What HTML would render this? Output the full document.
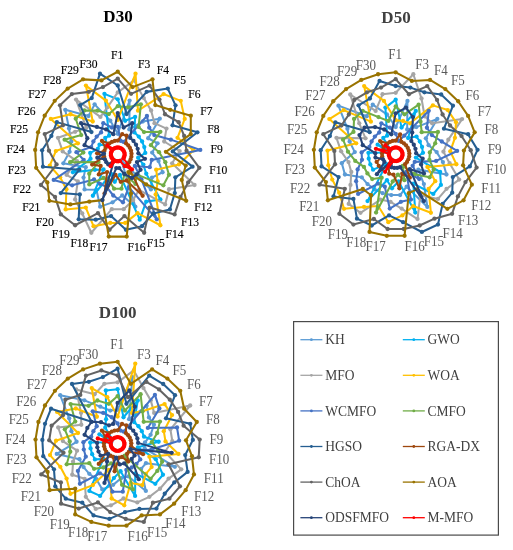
<!DOCTYPE html>
<html><head><meta charset="utf-8"><title>Radar</title>
<style>
html,body{margin:0;padding:0;background:#fff}
svg{display:block}
text{font-family:"Liberation Serif","Times New Roman",serif}
.t{font-size:17px;font-weight:bold}
.g{font-size:15.2px;fill:#404040}
polygon{fill:none;stroke-width:2.05;stroke-linejoin:round}
</style></head><body>
<svg width="513" height="550" viewBox="0 0 513 550">
<rect width="513" height="550" fill="#fff"/>
<g>
<text class="t" x="118" y="22.4" text-anchor="middle" fill="#000">D30</text>
<g class="l" text-anchor="middle" font-size="12.2" fill="#000" stroke="#000" stroke-width="0.15">
<text transform="translate(117.1 58.9) scale(0.95 1)">F1</text><text transform="translate(144.15 68) scale(0.95 1)">F3</text><text transform="translate(162.85 73.9) scale(0.95 1)">F4</text><text transform="translate(179.85 84.1) scale(0.95 1)">F5</text><text transform="translate(194.35 98.2) scale(0.95 1)">F6</text><text transform="translate(206.35 114.5) scale(0.95 1)">F7</text><text transform="translate(213.35 133.4) scale(0.95 1)">F8</text><text transform="translate(216.65 153.2) scale(0.95 1)">F9</text><text transform="translate(218.2 173.6) scale(0.95 1)">F10</text><text transform="translate(213.1 192.7) scale(0.95 1)">F11</text><text transform="translate(203.2 210.7) scale(0.95 1)">F12</text><text transform="translate(190.1 225.9) scale(0.95 1)">F13</text><text transform="translate(174.5 238.2) scale(0.95 1)">F14</text><text transform="translate(155.8 246.7) scale(0.95 1)">F15</text><text transform="translate(136.5 251.3) scale(0.95 1)">F16</text><text transform="translate(98.5 251.3) scale(0.95 1)">F17</text><text transform="translate(79.4 246.7) scale(0.95 1)">F18</text><text transform="translate(60.7 238) scale(0.95 1)">F19</text><text transform="translate(44.8 225.7) scale(0.95 1)">F20</text><text transform="translate(31.2 210.7) scale(0.95 1)">F21</text><text transform="translate(22.1 192.7) scale(0.95 1)">F22</text><text transform="translate(16.7 173.6) scale(0.95 1)">F23</text><text transform="translate(15.6 153.2) scale(0.95 1)">F24</text><text transform="translate(19.1 133.4) scale(0.95 1)">F25</text><text transform="translate(26.6 114.5) scale(0.95 1)">F26</text><text transform="translate(37.3 98.2) scale(0.95 1)">F27</text><text transform="translate(52.3 84.1) scale(0.95 1)">F28</text><text transform="translate(69.8 73.9) scale(0.95 1)">F29</text><text transform="translate(88.5 68) scale(0.95 1)">F30</text>
</g>
<g fill="#5B9BD5" stroke="#5B9BD5">
<polygon points="117.75,133.73 129.6,100.57 129.32,129.39 142.77,121.49 159.76,118.72 148.19,138.26 157.58,143.34 152.15,152.53 158.55,161.09 162.55,172.25 151.97,177.6 150.92,189.41 121.3,160.3 135.35,206.63 122.22,195.5 112.54,202.35 100.15,206.63 96.44,189.82 84.58,189.41 83.53,177.6 85.75,167.15 63.36,163.32 69.59,151.79 71.28,141.5 69.05,128.58 65.24,109.8 88.56,116 94.61,104.37 110.34,120.76"/>
<g stroke="none"><circle cx="117.75" cy="133.73" r="2.15"/><circle cx="129.6" cy="100.57" r="2.15"/><circle cx="129.32" cy="129.39" r="2.15"/><circle cx="142.77" cy="121.49" r="2.15"/><circle cx="159.76" cy="118.72" r="2.15"/><circle cx="148.19" cy="138.26" r="2.15"/><circle cx="157.58" cy="143.34" r="2.15"/><circle cx="152.15" cy="152.53" r="2.15"/><circle cx="158.55" cy="161.09" r="2.15"/><circle cx="162.55" cy="172.25" r="2.15"/><circle cx="151.97" cy="177.6" r="2.15"/><circle cx="150.92" cy="189.41" r="2.15"/><circle cx="121.3" cy="160.3" r="2.15"/><circle cx="135.35" cy="206.63" r="2.15"/><circle cx="122.22" cy="195.5" r="2.15"/><circle cx="112.54" cy="202.35" r="2.15"/><circle cx="100.15" cy="206.63" r="2.15"/><circle cx="96.44" cy="189.82" r="2.15"/><circle cx="84.58" cy="189.41" r="2.15"/><circle cx="83.53" cy="177.6" r="2.15"/><circle cx="85.75" cy="167.15" r="2.15"/><circle cx="63.36" cy="163.32" r="2.15"/><circle cx="69.59" cy="151.79" r="2.15"/><circle cx="71.28" cy="141.5" r="2.15"/><circle cx="69.05" cy="128.58" r="2.15"/><circle cx="65.24" cy="109.8" r="2.15"/><circle cx="88.56" cy="116" r="2.15"/><circle cx="94.61" cy="104.37" r="2.15"/><circle cx="110.34" cy="120.76" r="2.15"/></g>
</g>
<g fill="#00B0F0" stroke="#00B0F0">
<polygon points="117.75,99.28 125.16,120.76 135.11,116.88 134.43,132.46 138.76,136.56 142.1,141.49 144.31,147.03 145.27,152.91 138.15,157.74 143.35,164.6 146.26,173.73 160.39,199.42 146.17,201.63 139.75,219.69 119.98,174.95 114.77,181.8 111.15,173.99 92.88,195.73 103.54,169.41 94.94,169.87 72.95,172.25 90.55,158.86 90.23,152.91 97.83,148.87 99.49,144.72 107.25,145.48 105.24,137.94 109.07,135.64 104.42,93.84"/>
<g stroke="none"><circle cx="117.75" cy="99.28" r="2.15"/><circle cx="125.16" cy="120.76" r="2.15"/><circle cx="135.11" cy="116.88" r="2.15"/><circle cx="134.43" cy="132.46" r="2.15"/><circle cx="138.76" cy="136.56" r="2.15"/><circle cx="142.1" cy="141.49" r="2.15"/><circle cx="144.31" cy="147.03" r="2.15"/><circle cx="145.27" cy="152.91" r="2.15"/><circle cx="138.15" cy="157.74" r="2.15"/><circle cx="143.35" cy="164.6" r="2.15"/><circle cx="146.26" cy="173.73" r="2.15"/><circle cx="160.39" cy="199.42" r="2.15"/><circle cx="146.17" cy="201.63" r="2.15"/><circle cx="139.75" cy="219.69" r="2.15"/><circle cx="119.98" cy="174.95" r="2.15"/><circle cx="114.77" cy="181.8" r="2.15"/><circle cx="111.15" cy="173.99" r="2.15"/><circle cx="92.88" cy="195.73" r="2.15"/><circle cx="103.54" cy="169.41" r="2.15"/><circle cx="94.94" cy="169.87" r="2.15"/><circle cx="72.95" cy="172.25" r="2.15"/><circle cx="90.55" cy="158.86" r="2.15"/><circle cx="90.23" cy="152.91" r="2.15"/><circle cx="97.83" cy="148.87" r="2.15"/><circle cx="99.49" cy="144.72" r="2.15"/><circle cx="107.25" cy="145.48" r="2.15"/><circle cx="105.24" cy="137.94" r="2.15"/><circle cx="109.07" cy="135.64" r="2.15"/><circle cx="104.42" cy="93.84" r="2.15"/></g>
</g>
<g fill="#A5A5A5" stroke="#A5A5A5">
<polygon points="117.75,92.39 134.04,80.38 143.79,98.12 151.11,110.52 154.51,123.18 166.45,128.58 164.22,141.5 179.67,151.04 172.14,163.32 194.56,185 169.07,189.2 165.13,204.42 139.06,189.82 133.15,200.11 123.71,209.2 111.79,209.2 91.35,232.75 82.23,213.44 75.11,199.42 77.83,181.47 66.54,174.8 76.95,161.09 62.71,151.42 58,137.81 75.14,131.81 86.24,127.64 76.05,99.55 100.39,116.88 107.38,107.3"/>
<g stroke="none"><circle cx="117.75" cy="92.39" r="2.15"/><circle cx="134.04" cy="80.38" r="2.15"/><circle cx="143.79" cy="98.12" r="2.15"/><circle cx="151.11" cy="110.52" r="2.15"/><circle cx="154.51" cy="123.18" r="2.15"/><circle cx="166.45" cy="128.58" r="2.15"/><circle cx="164.22" cy="141.5" r="2.15"/><circle cx="179.67" cy="151.04" r="2.15"/><circle cx="172.14" cy="163.32" r="2.15"/><circle cx="194.56" cy="185" r="2.15"/><circle cx="169.07" cy="189.2" r="2.15"/><circle cx="165.13" cy="204.42" r="2.15"/><circle cx="139.06" cy="189.82" r="2.15"/><circle cx="133.15" cy="200.11" r="2.15"/><circle cx="123.71" cy="209.2" r="2.15"/><circle cx="111.79" cy="209.2" r="2.15"/><circle cx="91.35" cy="232.75" r="2.15"/><circle cx="82.23" cy="213.44" r="2.15"/><circle cx="75.11" cy="199.42" r="2.15"/><circle cx="77.83" cy="181.47" r="2.15"/><circle cx="66.54" cy="174.8" r="2.15"/><circle cx="76.95" cy="161.09" r="2.15"/><circle cx="62.71" cy="151.42" r="2.15"/><circle cx="58" cy="137.81" r="2.15"/><circle cx="75.14" cy="131.81" r="2.15"/><circle cx="86.24" cy="127.64" r="2.15"/><circle cx="76.05" cy="99.55" r="2.15"/><circle cx="100.39" cy="116.88" r="2.15"/><circle cx="107.38" cy="107.3" r="2.15"/></g>
</g>
<g fill="#FFC000" stroke="#FFC000">
<polygon points="117.75,119.95 135.52,73.65 138,110.63 163.62,94.06 180.77,100.87 184.71,118.9 177.5,137.81 193.43,150.3 178.94,164.43 156.15,169.7 157.67,181.47 155.66,194.42 160.38,225.24 137.55,213.16 125.2,222.9 110.3,222.9 93.55,226.22 85.78,207.53 65.63,209.42 66.43,189.2 60.14,177.35 49.76,165.55 55.83,151.04 77.92,143.34 50.79,118.9 70.49,114.26 92.73,121.49 85.93,85.61 105.9,100.57"/>
<g stroke="none"><circle cx="117.75" cy="119.95" r="2.15"/><circle cx="135.52" cy="73.65" r="2.15"/><circle cx="138" cy="110.63" r="2.15"/><circle cx="163.62" cy="94.06" r="2.15"/><circle cx="180.77" cy="100.87" r="2.15"/><circle cx="184.71" cy="118.9" r="2.15"/><circle cx="177.5" cy="137.81" r="2.15"/><circle cx="193.43" cy="150.3" r="2.15"/><circle cx="178.94" cy="164.43" r="2.15"/><circle cx="156.15" cy="169.7" r="2.15"/><circle cx="157.67" cy="181.47" r="2.15"/><circle cx="155.66" cy="194.42" r="2.15"/><circle cx="160.38" cy="225.24" r="2.15"/><circle cx="137.55" cy="213.16" r="2.15"/><circle cx="125.2" cy="222.9" r="2.15"/><circle cx="110.3" cy="222.9" r="2.15"/><circle cx="93.55" cy="226.22" r="2.15"/><circle cx="85.78" cy="207.53" r="2.15"/><circle cx="65.63" cy="209.42" r="2.15"/><circle cx="66.43" cy="189.2" r="2.15"/><circle cx="60.14" cy="177.35" r="2.15"/><circle cx="49.76" cy="165.55" r="2.15"/><circle cx="55.83" cy="151.04" r="2.15"/><circle cx="77.92" cy="143.34" r="2.15"/><circle cx="50.79" cy="118.9" r="2.15"/><circle cx="70.49" cy="114.26" r="2.15"/><circle cx="92.73" cy="121.49" r="2.15"/><circle cx="85.93" cy="85.61" r="2.15"/><circle cx="105.9" cy="100.57" r="2.15"/></g>
</g>
<g fill="#4472C4" stroke="#4472C4">
<polygon points="117.75,126.84 120.71,140.94 123.54,141.89 146.94,116 149.26,127.64 154.27,135.04 170.86,139.65 200.31,149.92 151.75,159.97 149.75,167.15 134.86,166 141.44,179.41 156.82,219.34 128.75,187.05 122.96,202.35 113.28,195.5 106.75,187.05 99.99,183.92 94.06,179.41 72.13,185.33 53.74,179.9 83.75,159.97 76.47,152.16 91.19,147.03 93.4,141.49 96.74,136.56 101.07,132.46 103.28,123.13 111.83,127.48"/>
<g stroke="none"><circle cx="117.75" cy="126.84" r="2.15"/><circle cx="120.71" cy="140.94" r="2.15"/><circle cx="123.54" cy="141.89" r="2.15"/><circle cx="146.94" cy="116" r="2.15"/><circle cx="149.26" cy="127.64" r="2.15"/><circle cx="154.27" cy="135.04" r="2.15"/><circle cx="170.86" cy="139.65" r="2.15"/><circle cx="200.31" cy="149.92" r="2.15"/><circle cx="151.75" cy="159.97" r="2.15"/><circle cx="149.75" cy="167.15" r="2.15"/><circle cx="134.86" cy="166" r="2.15"/><circle cx="141.44" cy="179.41" r="2.15"/><circle cx="156.82" cy="219.34" r="2.15"/><circle cx="128.75" cy="187.05" r="2.15"/><circle cx="122.96" cy="202.35" r="2.15"/><circle cx="113.28" cy="195.5" r="2.15"/><circle cx="106.75" cy="187.05" r="2.15"/><circle cx="99.99" cy="183.92" r="2.15"/><circle cx="94.06" cy="179.41" r="2.15"/><circle cx="72.13" cy="185.33" r="2.15"/><circle cx="53.74" cy="179.9" r="2.15"/><circle cx="83.75" cy="159.97" r="2.15"/><circle cx="76.47" cy="152.16" r="2.15"/><circle cx="91.19" cy="147.03" r="2.15"/><circle cx="93.4" cy="141.49" r="2.15"/><circle cx="96.74" cy="136.56" r="2.15"/><circle cx="101.07" cy="132.46" r="2.15"/><circle cx="103.28" cy="123.13" r="2.15"/><circle cx="111.83" cy="127.48" r="2.15"/></g>
</g>
<g fill="#70AD47" stroke="#70AD47">
<polygon points="117.75,106.17 128.12,107.3 140.89,104.37 138.6,126.97 144.01,132.1 160.36,131.81 150.94,145.18 159.03,152.16 165.34,162.2 168.96,174.8 163.37,185.33 136.7,174.41 135.51,183.92 124.35,173.99 121.47,188.65 114.03,188.65 108.95,180.52 103.54,178.01 89.32,184.41 89.24,173.73 98.55,162.05 70.16,162.2 83.35,152.53 64.64,139.65 81.23,135.04 75.74,118.72 84.39,110.52 97.5,110.63 108.86,114.03"/>
<g stroke="none"><circle cx="117.75" cy="106.17" r="2.15"/><circle cx="128.12" cy="107.3" r="2.15"/><circle cx="140.89" cy="104.37" r="2.15"/><circle cx="138.6" cy="126.97" r="2.15"/><circle cx="144.01" cy="132.1" r="2.15"/><circle cx="160.36" cy="131.81" r="2.15"/><circle cx="150.94" cy="145.18" r="2.15"/><circle cx="159.03" cy="152.16" r="2.15"/><circle cx="165.34" cy="162.2" r="2.15"/><circle cx="168.96" cy="174.8" r="2.15"/><circle cx="163.37" cy="185.33" r="2.15"/><circle cx="136.7" cy="174.41" r="2.15"/><circle cx="135.51" cy="183.92" r="2.15"/><circle cx="124.35" cy="173.99" r="2.15"/><circle cx="121.47" cy="188.65" r="2.15"/><circle cx="114.03" cy="188.65" r="2.15"/><circle cx="108.95" cy="180.52" r="2.15"/><circle cx="103.54" cy="178.01" r="2.15"/><circle cx="89.32" cy="184.41" r="2.15"/><circle cx="89.24" cy="173.73" r="2.15"/><circle cx="98.55" cy="162.05" r="2.15"/><circle cx="70.16" cy="162.2" r="2.15"/><circle cx="83.35" cy="152.53" r="2.15"/><circle cx="64.64" cy="139.65" r="2.15"/><circle cx="81.23" cy="135.04" r="2.15"/><circle cx="75.74" cy="118.72" r="2.15"/><circle cx="84.39" cy="110.52" r="2.15"/><circle cx="97.5" cy="110.63" r="2.15"/><circle cx="108.86" cy="114.03" r="2.15"/></g>
</g>
<g fill="#255E91" stroke="#255E91">
<polygon points="117.75,85.5 126.64,114.03 146.68,91.87 167.79,88.58 175.51,105.33 172.54,125.35 197.42,132.28 172.79,151.42 192.54,166.66 175.36,177.35 174.78,193.07 169.87,209.42 153.27,213.44 141.95,226.22 125.94,229.75 111.05,216.05 95.75,219.69 78.68,219.34 79.84,194.42 60.72,193.07 79.35,169.7 42.96,166.66 42.07,150.3 51.36,135.97 56.88,122.13 91.49,132.1 80.22,105.03 91.71,98.12 99.98,73.65"/>
<g stroke="none"><circle cx="117.75" cy="85.5" r="2.15"/><circle cx="126.64" cy="114.03" r="2.15"/><circle cx="146.68" cy="91.87" r="2.15"/><circle cx="167.79" cy="88.58" r="2.15"/><circle cx="175.51" cy="105.33" r="2.15"/><circle cx="172.54" cy="125.35" r="2.15"/><circle cx="197.42" cy="132.28" r="2.15"/><circle cx="172.79" cy="151.42" r="2.15"/><circle cx="192.54" cy="166.66" r="2.15"/><circle cx="175.36" cy="177.35" r="2.15"/><circle cx="174.78" cy="193.07" r="2.15"/><circle cx="169.87" cy="209.42" r="2.15"/><circle cx="153.27" cy="213.44" r="2.15"/><circle cx="141.95" cy="226.22" r="2.15"/><circle cx="125.94" cy="229.75" r="2.15"/><circle cx="111.05" cy="216.05" r="2.15"/><circle cx="95.75" cy="219.69" r="2.15"/><circle cx="78.68" cy="219.34" r="2.15"/><circle cx="79.84" cy="194.42" r="2.15"/><circle cx="60.72" cy="193.07" r="2.15"/><circle cx="79.35" cy="169.7" r="2.15"/><circle cx="42.96" cy="166.66" r="2.15"/><circle cx="42.07" cy="150.3" r="2.15"/><circle cx="51.36" cy="135.97" r="2.15"/><circle cx="56.88" cy="122.13" r="2.15"/><circle cx="91.49" cy="132.1" r="2.15"/><circle cx="80.22" cy="105.03" r="2.15"/><circle cx="91.71" cy="98.12" r="2.15"/><circle cx="99.98" cy="73.65" r="2.15"/></g>
</g>
<g fill="#9E480E" stroke="#9E480E">
<polygon points="117.75,140.62 122.19,134.21 126.43,135.64 126.09,143.43 128.25,145.48 129.92,147.95 131.03,150.71 131.51,153.65 131.35,156.63 130.55,159.5 129.16,162.13 127.23,164.4 142.62,195.73 126.55,180.52 120.73,181.8 115.52,174.95 104.55,193.58 107.09,172.11 98.8,174.41 100.64,166 92.15,164.6 104.15,156.63 97.11,153.28 104.47,150.71 105.58,147.95 102,141.02 109.41,143.43 111.96,141.89 114.79,140.94"/>
<g stroke="none"><circle cx="117.75" cy="140.62" r="2.15"/><circle cx="122.19" cy="134.21" r="2.15"/><circle cx="126.43" cy="135.64" r="2.15"/><circle cx="126.09" cy="143.43" r="2.15"/><circle cx="128.25" cy="145.48" r="2.15"/><circle cx="129.92" cy="147.95" r="2.15"/><circle cx="131.03" cy="150.71" r="2.15"/><circle cx="131.51" cy="153.65" r="2.15"/><circle cx="131.35" cy="156.63" r="2.15"/><circle cx="130.55" cy="159.5" r="2.15"/><circle cx="129.16" cy="162.13" r="2.15"/><circle cx="127.23" cy="164.4" r="2.15"/><circle cx="142.62" cy="195.73" r="2.15"/><circle cx="126.55" cy="180.52" r="2.15"/><circle cx="120.73" cy="181.8" r="2.15"/><circle cx="115.52" cy="174.95" r="2.15"/><circle cx="104.55" cy="193.58" r="2.15"/><circle cx="107.09" cy="172.11" r="2.15"/><circle cx="98.8" cy="174.41" r="2.15"/><circle cx="100.64" cy="166" r="2.15"/><circle cx="92.15" cy="164.6" r="2.15"/><circle cx="104.15" cy="156.63" r="2.15"/><circle cx="97.11" cy="153.28" r="2.15"/><circle cx="104.47" cy="150.71" r="2.15"/><circle cx="105.58" cy="147.95" r="2.15"/><circle cx="102" cy="141.02" r="2.15"/><circle cx="109.41" cy="143.43" r="2.15"/><circle cx="111.96" cy="141.89" r="2.15"/><circle cx="114.79" cy="140.94" r="2.15"/></g>
</g>
<g fill="#636363" stroke="#636363">
<polygon points="117.75,78.61 131.08,93.84 149.57,85.61 159.45,99.55 165.01,114.26 178.62,122.13 184.14,135.97 186.55,150.67 199.34,167.78 188.16,182.45 180.48,196.93 174.61,214.43 149.72,207.53 144.15,232.75 124.45,216.05 109.56,229.75 97.95,213.16 75.12,225.24 60.89,214.43 55.02,196.93 40.94,185 56.56,164.43 48.95,150.67 44.72,134.12 62.96,125.35 59.99,105.33 71.88,94.06 88.82,91.87 102.94,87.11"/>
<g stroke="none"><circle cx="117.75" cy="78.61" r="2.15"/><circle cx="131.08" cy="93.84" r="2.15"/><circle cx="149.57" cy="85.61" r="2.15"/><circle cx="159.45" cy="99.55" r="2.15"/><circle cx="165.01" cy="114.26" r="2.15"/><circle cx="178.62" cy="122.13" r="2.15"/><circle cx="184.14" cy="135.97" r="2.15"/><circle cx="186.55" cy="150.67" r="2.15"/><circle cx="199.34" cy="167.78" r="2.15"/><circle cx="188.16" cy="182.45" r="2.15"/><circle cx="180.48" cy="196.93" r="2.15"/><circle cx="174.61" cy="214.43" r="2.15"/><circle cx="149.72" cy="207.53" r="2.15"/><circle cx="144.15" cy="232.75" r="2.15"/><circle cx="124.45" cy="216.05" r="2.15"/><circle cx="109.56" cy="229.75" r="2.15"/><circle cx="97.95" cy="213.16" r="2.15"/><circle cx="75.12" cy="225.24" r="2.15"/><circle cx="60.89" cy="214.43" r="2.15"/><circle cx="55.02" cy="196.93" r="2.15"/><circle cx="40.94" cy="185" r="2.15"/><circle cx="56.56" cy="164.43" r="2.15"/><circle cx="48.95" cy="150.67" r="2.15"/><circle cx="44.72" cy="134.12" r="2.15"/><circle cx="62.96" cy="125.35" r="2.15"/><circle cx="59.99" cy="105.33" r="2.15"/><circle cx="71.88" cy="94.06" r="2.15"/><circle cx="88.82" cy="91.87" r="2.15"/><circle cx="102.94" cy="87.11" r="2.15"/></g>
</g>
<g fill="#997300" stroke="#997300">
<polygon points="117.75,71.72 132.56,87.11 152.47,79.36 155.28,105.03 170.26,109.8 190.8,115.67 190.78,134.12 165.91,151.79 185.74,165.55 181.76,179.9 186.18,200.8 146.18,184.41 128.41,172.11 130.95,193.58 126.69,236.6 108.81,236.6 102.35,200.11 89.33,201.63 70.37,204.42 49.32,200.8 47.34,182.45 36.16,167.78 35.19,149.92 38.08,132.28 44.7,115.67 54.73,100.87 67.71,88.58 83.03,79.36 101.46,80.38"/>
<g stroke="none"><circle cx="117.75" cy="71.72" r="2.15"/><circle cx="132.56" cy="87.11" r="2.15"/><circle cx="152.47" cy="79.36" r="2.15"/><circle cx="155.28" cy="105.03" r="2.15"/><circle cx="170.26" cy="109.8" r="2.15"/><circle cx="190.8" cy="115.67" r="2.15"/><circle cx="190.78" cy="134.12" r="2.15"/><circle cx="165.91" cy="151.79" r="2.15"/><circle cx="185.74" cy="165.55" r="2.15"/><circle cx="181.76" cy="179.9" r="2.15"/><circle cx="186.18" cy="200.8" r="2.15"/><circle cx="146.18" cy="184.41" r="2.15"/><circle cx="128.41" cy="172.11" r="2.15"/><circle cx="130.95" cy="193.58" r="2.15"/><circle cx="126.69" cy="236.6" r="2.15"/><circle cx="108.81" cy="236.6" r="2.15"/><circle cx="102.35" cy="200.11" r="2.15"/><circle cx="89.33" cy="201.63" r="2.15"/><circle cx="70.37" cy="204.42" r="2.15"/><circle cx="49.32" cy="200.8" r="2.15"/><circle cx="47.34" cy="182.45" r="2.15"/><circle cx="36.16" cy="167.78" r="2.15"/><circle cx="35.19" cy="149.92" r="2.15"/><circle cx="38.08" cy="132.28" r="2.15"/><circle cx="44.7" cy="115.67" r="2.15"/><circle cx="54.73" cy="100.87" r="2.15"/><circle cx="67.71" cy="88.58" r="2.15"/><circle cx="83.03" cy="79.36" r="2.15"/><circle cx="101.46" cy="80.38" r="2.15"/></g>
</g>
<g fill="#264478" stroke="#264478">
<polygon points="117.75,113.06 123.67,127.48 132.22,123.13 130.26,137.94 133.5,141.02 136.01,144.72 137.67,148.87 138.39,153.28 144.95,158.86 136.95,162.05 140.56,169.87 136.7,174.41 131.96,178.01 124.35,173.99 119.24,168.1 116.26,168.1 102.35,200.11 114.2,160.3 108.27,164.4 106.34,162.13 104.95,159.5 97.35,157.74 103.99,153.65 84.56,145.18 87.31,138.26 80.99,123.18 96.9,126.97 106.18,129.39 113.31,134.21"/>
<g stroke="none"><circle cx="117.75" cy="113.06" r="2.15"/><circle cx="123.67" cy="127.48" r="2.15"/><circle cx="132.22" cy="123.13" r="2.15"/><circle cx="130.26" cy="137.94" r="2.15"/><circle cx="133.5" cy="141.02" r="2.15"/><circle cx="136.01" cy="144.72" r="2.15"/><circle cx="137.67" cy="148.87" r="2.15"/><circle cx="138.39" cy="153.28" r="2.15"/><circle cx="144.95" cy="158.86" r="2.15"/><circle cx="136.95" cy="162.05" r="2.15"/><circle cx="140.56" cy="169.87" r="2.15"/><circle cx="136.7" cy="174.41" r="2.15"/><circle cx="131.96" cy="178.01" r="2.15"/><circle cx="124.35" cy="173.99" r="2.15"/><circle cx="119.24" cy="168.1" r="2.15"/><circle cx="116.26" cy="168.1" r="2.15"/><circle cx="102.35" cy="200.11" r="2.15"/><circle cx="114.2" cy="160.3" r="2.15"/><circle cx="108.27" cy="164.4" r="2.15"/><circle cx="106.34" cy="162.13" r="2.15"/><circle cx="104.95" cy="159.5" r="2.15"/><circle cx="97.35" cy="157.74" r="2.15"/><circle cx="103.99" cy="153.65" r="2.15"/><circle cx="84.56" cy="145.18" r="2.15"/><circle cx="87.31" cy="138.26" r="2.15"/><circle cx="80.99" cy="123.18" r="2.15"/><circle cx="96.9" cy="126.97" r="2.15"/><circle cx="106.18" cy="129.39" r="2.15"/><circle cx="113.31" cy="134.21" r="2.15"/></g>
</g>
<g fill="#FF0000" stroke="#FF0000">
<polygon points="117.75,147.51 119.23,147.67 120.64,148.15 121.92,148.91 123,149.94 123.84,151.17 124.39,152.56 124.63,154.03 124.55,155.51 124.15,156.95 123.45,158.27 131.96,169.41 124.85,166.21 119.95,160.93 118.49,161.25 117.01,161.25 115.55,160.93 110.65,166.21 113.01,159.4 112.05,158.27 111.35,156.95 110.95,155.51 110.87,154.03 111.11,152.56 111.66,151.17 107.25,145.48 113.58,148.91 114.86,148.15 116.27,147.67"/>
<g stroke="none"><circle cx="117.75" cy="147.51" r="2.15"/><circle cx="119.23" cy="147.67" r="2.15"/><circle cx="120.64" cy="148.15" r="2.15"/><circle cx="121.92" cy="148.91" r="2.15"/><circle cx="123" cy="149.94" r="2.15"/><circle cx="123.84" cy="151.17" r="2.15"/><circle cx="124.39" cy="152.56" r="2.15"/><circle cx="124.63" cy="154.03" r="2.15"/><circle cx="124.55" cy="155.51" r="2.15"/><circle cx="124.15" cy="156.95" r="2.15"/><circle cx="123.45" cy="158.27" r="2.15"/><circle cx="131.96" cy="169.41" r="2.15"/><circle cx="124.85" cy="166.21" r="2.15"/><circle cx="119.95" cy="160.93" r="2.15"/><circle cx="118.49" cy="161.25" r="2.15"/><circle cx="117.01" cy="161.25" r="2.15"/><circle cx="115.55" cy="160.93" r="2.15"/><circle cx="110.65" cy="166.21" r="2.15"/><circle cx="113.01" cy="159.4" r="2.15"/><circle cx="112.05" cy="158.27" r="2.15"/><circle cx="111.35" cy="156.95" r="2.15"/><circle cx="110.95" cy="155.51" r="2.15"/><circle cx="110.87" cy="154.03" r="2.15"/><circle cx="111.11" cy="152.56" r="2.15"/><circle cx="111.66" cy="151.17" r="2.15"/><circle cx="107.25" cy="145.48" r="2.15"/><circle cx="113.58" cy="148.91" r="2.15"/><circle cx="114.86" cy="148.15" r="2.15"/><circle cx="116.27" cy="147.67" r="2.15"/></g>
</g>
</g>
<g>
<text class="t" x="396" y="23.4" text-anchor="middle" fill="#404040">D50</text>
<g class="l" text-anchor="middle" font-size="13.7" fill="#595959">
<text transform="translate(395.15 59.2) scale(0.95 1)">F1</text><text transform="translate(422.2 69.49) scale(0.95 1)">F3</text><text transform="translate(440.9 75.32) scale(0.95 1)">F4</text><text transform="translate(457.9 85.39) scale(0.95 1)">F5</text><text transform="translate(472.4 99.82) scale(0.95 1)">F6</text><text transform="translate(484.4 116.33) scale(0.95 1)">F7</text><text transform="translate(491.4 134.1) scale(0.95 1)">F8</text><text transform="translate(494.7 153.66) scale(0.95 1)">F9</text><text transform="translate(496.25 173.82) scale(0.95 1)">F10</text><text transform="translate(491.15 192.69) scale(0.95 1)">F11</text><text transform="translate(481.25 210.47) scale(0.95 1)">F12</text><text transform="translate(468.15 225.49) scale(0.95 1)">F13</text><text transform="translate(452.55 237.64) scale(0.95 1)">F14</text><text transform="translate(433.85 246.04) scale(0.95 1)">F15</text><text transform="translate(414.55 250.59) scale(0.95 1)">F16</text><text transform="translate(375.55 250.59) scale(0.95 1)">F17</text><text transform="translate(356.25 246.54) scale(0.95 1)">F18</text><text transform="translate(337.95 238.65) scale(0.95 1)">F19</text><text transform="translate(321.95 226.09) scale(0.95 1)">F20</text><text transform="translate(309.25 211.27) scale(0.95 1)">F21</text><text transform="translate(300.15 192.69) scale(0.95 1)">F22</text><text transform="translate(294.75 173.82) scale(0.95 1)">F23</text><text transform="translate(293.65 153.66) scale(0.95 1)">F24</text><text transform="translate(297.15 134.1) scale(0.95 1)">F25</text><text transform="translate(304.65 116.43) scale(0.95 1)">F26</text><text transform="translate(315.35 99.82) scale(0.95 1)">F27</text><text transform="translate(329.65 86.19) scale(0.95 1)">F28</text><text transform="translate(347.05 76.22) scale(0.95 1)">F29</text><text transform="translate(365.85 70.09) scale(0.95 1)">F30</text>
</g>
<g fill="#5B9BD5" stroke="#5B9BD5">
<polygon points="395.7,126.98 407.45,100.94 407.17,129.51 416.37,127.11 437.34,118.93 425.87,138.3 428.61,145.16 436.62,152.08 442.88,162.03 446.46,174.52 418.31,169.63 423.88,184.05 427.39,206.97 406.6,186.66 400.13,195.04 391.27,195.04 382.62,193.13 374.57,189.41 367.52,184.05 361.78,177.3 344.94,174.52 341.78,163.14 354.78,152.08 349.63,141.51 347.42,128.71 338.44,105.66 366.77,116.24 372.76,104.71 386.89,114.28"/>
<g stroke="none"><circle cx="395.7" cy="126.98" r="2.15"/><circle cx="407.45" cy="100.94" r="2.15"/><circle cx="407.17" cy="129.51" r="2.15"/><circle cx="416.37" cy="127.11" r="2.15"/><circle cx="437.34" cy="118.93" r="2.15"/><circle cx="425.87" cy="138.3" r="2.15"/><circle cx="428.61" cy="145.16" r="2.15"/><circle cx="436.62" cy="152.08" r="2.15"/><circle cx="442.88" cy="162.03" r="2.15"/><circle cx="446.46" cy="174.52" r="2.15"/><circle cx="418.31" cy="169.63" r="2.15"/><circle cx="423.88" cy="184.05" r="2.15"/><circle cx="427.39" cy="206.97" r="2.15"/><circle cx="406.6" cy="186.66" r="2.15"/><circle cx="400.13" cy="195.04" r="2.15"/><circle cx="391.27" cy="195.04" r="2.15"/><circle cx="382.62" cy="193.13" r="2.15"/><circle cx="374.57" cy="189.41" r="2.15"/><circle cx="367.52" cy="184.05" r="2.15"/><circle cx="361.78" cy="177.3" r="2.15"/><circle cx="344.94" cy="174.52" r="2.15"/><circle cx="341.78" cy="163.14" r="2.15"/><circle cx="354.78" cy="152.08" r="2.15"/><circle cx="349.63" cy="141.51" r="2.15"/><circle cx="347.42" cy="128.71" r="2.15"/><circle cx="338.44" cy="105.66" r="2.15"/><circle cx="366.77" cy="116.24" r="2.15"/><circle cx="372.76" cy="104.71" r="2.15"/><circle cx="386.89" cy="114.28" r="2.15"/></g>
</g>
<g fill="#00B0F0" stroke="#00B0F0">
<polygon points="395.7,99.66 401.57,127.62 415.77,110.91 408.1,137.99 416.52,136.61 419.84,141.5 422.02,146.99 422.98,152.82 415.92,157.61 440.11,172 440.92,184.96 433.28,193.97 413.31,183.56 415.33,212.55 398.65,181.46 392.01,188.25 386.98,180.19 367.53,201.12 386.31,164.22 373.09,169.63 370.32,164.41 368.74,158.72 368.42,152.82 389.12,152.47 377.6,144.7 390.49,149.88 383.3,137.99 387.1,135.7 385.42,107.61"/>
<g stroke="none"><circle cx="395.7" cy="99.66" r="2.15"/><circle cx="401.57" cy="127.62" r="2.15"/><circle cx="415.77" cy="110.91" r="2.15"/><circle cx="408.1" cy="137.99" r="2.15"/><circle cx="416.52" cy="136.61" r="2.15"/><circle cx="419.84" cy="141.5" r="2.15"/><circle cx="422.02" cy="146.99" r="2.15"/><circle cx="422.98" cy="152.82" r="2.15"/><circle cx="415.92" cy="157.61" r="2.15"/><circle cx="440.11" cy="172" r="2.15"/><circle cx="440.92" cy="184.96" r="2.15"/><circle cx="433.28" cy="193.97" r="2.15"/><circle cx="413.31" cy="183.56" r="2.15"/><circle cx="415.33" cy="212.55" r="2.15"/><circle cx="398.65" cy="181.46" r="2.15"/><circle cx="392.01" cy="188.25" r="2.15"/><circle cx="386.98" cy="180.19" r="2.15"/><circle cx="367.53" cy="201.12" r="2.15"/><circle cx="386.31" cy="164.22" r="2.15"/><circle cx="373.09" cy="169.63" r="2.15"/><circle cx="370.32" cy="164.41" r="2.15"/><circle cx="368.74" cy="158.72" r="2.15"/><circle cx="368.42" cy="152.82" r="2.15"/><circle cx="389.12" cy="152.47" r="2.15"/><circle cx="377.6" cy="144.7" r="2.15"/><circle cx="390.49" cy="149.88" r="2.15"/><circle cx="383.3" cy="137.99" r="2.15"/><circle cx="387.1" cy="135.7" r="2.15"/><circle cx="385.42" cy="107.61" r="2.15"/></g>
</g>
<g fill="#A5A5A5" stroke="#A5A5A5">
<polygon points="395.7,92.83 413.32,74.26 421.51,98.51 424.63,116.24 432.14,123.35 462.08,119.11 448.35,139.68 443.44,151.71 449.62,163.14 459.15,179.58 446.58,188.8 437.97,198.93 420.35,195.27 417.51,219.02 401.61,208.62 390.53,201.83 380.43,199.61 360.49,212.82 348.73,203.89 350.48,184.96 351.29,172 348.52,162.03 341.14,151.34 336.47,137.86 365.53,138.3 359.26,123.35 350.23,94.49 375.63,110.91 382.49,94.27"/>
<g stroke="none"><circle cx="395.7" cy="92.83" r="2.15"/><circle cx="413.32" cy="74.26" r="2.15"/><circle cx="421.51" cy="98.51" r="2.15"/><circle cx="424.63" cy="116.24" r="2.15"/><circle cx="432.14" cy="123.35" r="2.15"/><circle cx="462.08" cy="119.11" r="2.15"/><circle cx="448.35" cy="139.68" r="2.15"/><circle cx="443.44" cy="151.71" r="2.15"/><circle cx="449.62" cy="163.14" r="2.15"/><circle cx="459.15" cy="179.58" r="2.15"/><circle cx="446.58" cy="188.8" r="2.15"/><circle cx="437.97" cy="198.93" r="2.15"/><circle cx="420.35" cy="195.27" r="2.15"/><circle cx="417.51" cy="219.02" r="2.15"/><circle cx="401.61" cy="208.62" r="2.15"/><circle cx="390.53" cy="201.83" r="2.15"/><circle cx="380.43" cy="199.61" r="2.15"/><circle cx="360.49" cy="212.82" r="2.15"/><circle cx="348.73" cy="203.89" r="2.15"/><circle cx="350.48" cy="184.96" r="2.15"/><circle cx="351.29" cy="172" r="2.15"/><circle cx="348.52" cy="162.03" r="2.15"/><circle cx="341.14" cy="151.34" r="2.15"/><circle cx="336.47" cy="137.86" r="2.15"/><circle cx="365.53" cy="138.3" r="2.15"/><circle cx="359.26" cy="123.35" r="2.15"/><circle cx="350.23" cy="94.49" r="2.15"/><circle cx="375.63" cy="110.91" r="2.15"/><circle cx="382.49" cy="94.27" r="2.15"/></g>
</g>
<g fill="#FFC000" stroke="#FFC000">
<polygon points="395.7,120.15 403.04,120.95 410.04,123.31 432.9,105.36 447.76,110.08 456.04,122.31 454.93,137.86 450.26,151.34 456.36,164.24 427.42,166.94 435.27,181.13 428.58,189.01 430.91,212.82 413.15,206.08 402.35,215.41 388.32,222.2 378.25,206.08 364.01,206.97 344.03,208.84 339.17,192.63 332.25,179.58 328.3,165.35 327.5,150.6 356.21,143.34 329.32,119.11 343.64,110.08 370.9,121.68 364.15,86.11 383.95,100.94"/>
<g stroke="none"><circle cx="395.7" cy="120.15" r="2.15"/><circle cx="403.04" cy="120.95" r="2.15"/><circle cx="410.04" cy="123.31" r="2.15"/><circle cx="432.9" cy="105.36" r="2.15"/><circle cx="447.76" cy="110.08" r="2.15"/><circle cx="456.04" cy="122.31" r="2.15"/><circle cx="454.93" cy="137.86" r="2.15"/><circle cx="450.26" cy="151.34" r="2.15"/><circle cx="456.36" cy="164.24" r="2.15"/><circle cx="427.42" cy="166.94" r="2.15"/><circle cx="435.27" cy="181.13" r="2.15"/><circle cx="428.58" cy="189.01" r="2.15"/><circle cx="430.91" cy="212.82" r="2.15"/><circle cx="413.15" cy="206.08" r="2.15"/><circle cx="402.35" cy="215.41" r="2.15"/><circle cx="388.32" cy="222.2" r="2.15"/><circle cx="378.25" cy="206.08" r="2.15"/><circle cx="364.01" cy="206.97" r="2.15"/><circle cx="344.03" cy="208.84" r="2.15"/><circle cx="339.17" cy="192.63" r="2.15"/><circle cx="332.25" cy="179.58" r="2.15"/><circle cx="328.3" cy="165.35" r="2.15"/><circle cx="327.5" cy="150.6" r="2.15"/><circle cx="356.21" cy="143.34" r="2.15"/><circle cx="329.32" cy="119.11" r="2.15"/><circle cx="343.64" cy="110.08" r="2.15"/><circle cx="370.9" cy="121.68" r="2.15"/><circle cx="364.15" cy="86.11" r="2.15"/><circle cx="383.95" cy="100.94" r="2.15"/></g>
</g>
<g fill="#4472C4" stroke="#4472C4">
<polygon points="395.7,133.81 398.64,140.96 404.3,135.7 428.77,110.8 426.93,127.77 431.91,135.1 441.77,141.51 457.08,150.97 436.14,160.93 414.73,161.88 412.66,165.8 419.18,179.09 406.26,171.86 410.97,199.61 400.87,201.83 389.79,208.62 384.8,186.66 378.09,183.56 358.12,193.97 356.13,181.13 357.63,169.47 362,159.82 361.6,152.45 369.38,146.99 371.56,141.5 374.88,136.61 379.17,132.55 381.36,123.31 389.83,127.62"/>
<g stroke="none"><circle cx="395.7" cy="133.81" r="2.15"/><circle cx="398.64" cy="140.96" r="2.15"/><circle cx="404.3" cy="135.7" r="2.15"/><circle cx="428.77" cy="110.8" r="2.15"/><circle cx="426.93" cy="127.77" r="2.15"/><circle cx="431.91" cy="135.1" r="2.15"/><circle cx="441.77" cy="141.51" r="2.15"/><circle cx="457.08" cy="150.97" r="2.15"/><circle cx="436.14" cy="160.93" r="2.15"/><circle cx="414.73" cy="161.88" r="2.15"/><circle cx="412.66" cy="165.8" r="2.15"/><circle cx="419.18" cy="179.09" r="2.15"/><circle cx="406.26" cy="171.86" r="2.15"/><circle cx="410.97" cy="199.61" r="2.15"/><circle cx="400.87" cy="201.83" r="2.15"/><circle cx="389.79" cy="208.62" r="2.15"/><circle cx="384.8" cy="186.66" r="2.15"/><circle cx="378.09" cy="183.56" r="2.15"/><circle cx="358.12" cy="193.97" r="2.15"/><circle cx="356.13" cy="181.13" r="2.15"/><circle cx="357.63" cy="169.47" r="2.15"/><circle cx="362" cy="159.82" r="2.15"/><circle cx="361.6" cy="152.45" r="2.15"/><circle cx="369.38" cy="146.99" r="2.15"/><circle cx="371.56" cy="141.5" r="2.15"/><circle cx="374.88" cy="136.61" r="2.15"/><circle cx="379.17" cy="132.55" r="2.15"/><circle cx="381.36" cy="123.31" r="2.15"/><circle cx="389.83" cy="127.62" r="2.15"/></g>
</g>
<g fill="#70AD47" stroke="#70AD47">
<polygon points="395.7,106.49 404.51,114.28 418.64,104.71 420.5,121.68 421.73,132.19 437.94,131.91 435.19,143.34 429.8,152.45 429.4,159.82 433.77,169.47 429.62,177.3 414.49,174.13 402.74,166 404.42,180.19 397.92,174.67 392.75,181.46 376.07,212.55 381.62,177.71 372.22,179.09 367.43,173.46 363.98,166.94 355.26,160.93 347.96,151.71 343.05,139.68 353.46,131.91 354.06,118.93 362.63,110.8 378.49,117.11 388.36,120.95"/>
<g stroke="none"><circle cx="395.7" cy="106.49" r="2.15"/><circle cx="404.51" cy="114.28" r="2.15"/><circle cx="418.64" cy="104.71" r="2.15"/><circle cx="420.5" cy="121.68" r="2.15"/><circle cx="421.73" cy="132.19" r="2.15"/><circle cx="437.94" cy="131.91" r="2.15"/><circle cx="435.19" cy="143.34" r="2.15"/><circle cx="429.8" cy="152.45" r="2.15"/><circle cx="429.4" cy="159.82" r="2.15"/><circle cx="433.77" cy="169.47" r="2.15"/><circle cx="429.62" cy="177.3" r="2.15"/><circle cx="414.49" cy="174.13" r="2.15"/><circle cx="402.74" cy="166" r="2.15"/><circle cx="404.42" cy="180.19" r="2.15"/><circle cx="397.92" cy="174.67" r="2.15"/><circle cx="392.75" cy="181.46" r="2.15"/><circle cx="376.07" cy="212.55" r="2.15"/><circle cx="381.62" cy="177.71" r="2.15"/><circle cx="372.22" cy="179.09" r="2.15"/><circle cx="367.43" cy="173.46" r="2.15"/><circle cx="363.98" cy="166.94" r="2.15"/><circle cx="355.26" cy="160.93" r="2.15"/><circle cx="347.96" cy="151.71" r="2.15"/><circle cx="343.05" cy="139.68" r="2.15"/><circle cx="353.46" cy="131.91" r="2.15"/><circle cx="354.06" cy="118.93" r="2.15"/><circle cx="362.63" cy="110.8" r="2.15"/><circle cx="378.49" cy="117.11" r="2.15"/><circle cx="388.36" cy="120.95" r="2.15"/></g>
</g>
<g fill="#255E91" stroke="#255E91">
<polygon points="395.7,86 410.38,87.6 424.38,92.31 441.17,94.49 452.96,105.66 443.98,128.71 468.09,134.2 477.54,149.86 469.84,166.45 452.8,177.05 452.23,192.63 442.67,203.89 437.95,224.53 421.87,231.97 403.08,222.2 389.05,215.41 371.71,225.5 356.97,218.68 353.43,198.93 333.52,196.46 338.6,177.05 321.56,166.45 320.68,150.23 329.89,136.03 335.36,122.31 369.67,132.19 358.5,105.36 369.89,98.51 379.55,80.93"/>
<g stroke="none"><circle cx="395.7" cy="86" r="2.15"/><circle cx="410.38" cy="87.6" r="2.15"/><circle cx="424.38" cy="92.31" r="2.15"/><circle cx="441.17" cy="94.49" r="2.15"/><circle cx="452.96" cy="105.66" r="2.15"/><circle cx="443.98" cy="128.71" r="2.15"/><circle cx="468.09" cy="134.2" r="2.15"/><circle cx="477.54" cy="149.86" r="2.15"/><circle cx="469.84" cy="166.45" r="2.15"/><circle cx="452.8" cy="177.05" r="2.15"/><circle cx="452.23" cy="192.63" r="2.15"/><circle cx="442.67" cy="203.89" r="2.15"/><circle cx="437.95" cy="224.53" r="2.15"/><circle cx="421.87" cy="231.97" r="2.15"/><circle cx="403.08" cy="222.2" r="2.15"/><circle cx="389.05" cy="215.41" r="2.15"/><circle cx="371.71" cy="225.5" r="2.15"/><circle cx="356.97" cy="218.68" r="2.15"/><circle cx="353.43" cy="198.93" r="2.15"/><circle cx="333.52" cy="196.46" r="2.15"/><circle cx="338.6" cy="177.05" r="2.15"/><circle cx="321.56" cy="166.45" r="2.15"/><circle cx="320.68" cy="150.23" r="2.15"/><circle cx="329.89" cy="136.03" r="2.15"/><circle cx="335.36" cy="122.31" r="2.15"/><circle cx="369.67" cy="132.19" r="2.15"/><circle cx="358.5" cy="105.36" r="2.15"/><circle cx="369.89" cy="98.51" r="2.15"/><circle cx="379.55" cy="80.93" r="2.15"/></g>
</g>
<g fill="#9E480E" stroke="#9E480E">
<polygon points="395.7,140.64 400.1,134.29 401.44,141.9 403.97,143.43 406.11,145.46 407.77,147.9 408.86,150.65 409.34,153.56 409.18,156.51 408.39,159.36 407.01,161.97 405.09,164.22 409.78,177.71 402.24,173.72 399.39,188.25 393.48,174.67 389.16,173.72 388.66,166 381.61,169.18 378.74,165.8 376.67,161.88 382.22,156.51 382.06,153.56 382.54,150.65 383.63,147.9 380.08,141.04 387.43,143.43 389.96,141.9 392.76,140.96"/>
<g stroke="none"><circle cx="395.7" cy="140.64" r="2.15"/><circle cx="400.1" cy="134.29" r="2.15"/><circle cx="401.44" cy="141.9" r="2.15"/><circle cx="403.97" cy="143.43" r="2.15"/><circle cx="406.11" cy="145.46" r="2.15"/><circle cx="407.77" cy="147.9" r="2.15"/><circle cx="408.86" cy="150.65" r="2.15"/><circle cx="409.34" cy="153.56" r="2.15"/><circle cx="409.18" cy="156.51" r="2.15"/><circle cx="408.39" cy="159.36" r="2.15"/><circle cx="407.01" cy="161.97" r="2.15"/><circle cx="405.09" cy="164.22" r="2.15"/><circle cx="409.78" cy="177.71" r="2.15"/><circle cx="402.24" cy="173.72" r="2.15"/><circle cx="399.39" cy="188.25" r="2.15"/><circle cx="393.48" cy="174.67" r="2.15"/><circle cx="389.16" cy="173.72" r="2.15"/><circle cx="388.66" cy="166" r="2.15"/><circle cx="381.61" cy="169.18" r="2.15"/><circle cx="378.74" cy="165.8" r="2.15"/><circle cx="376.67" cy="161.88" r="2.15"/><circle cx="382.22" cy="156.51" r="2.15"/><circle cx="382.06" cy="153.56" r="2.15"/><circle cx="382.54" cy="150.65" r="2.15"/><circle cx="383.63" cy="147.9" r="2.15"/><circle cx="380.08" cy="141.04" r="2.15"/><circle cx="387.43" cy="143.43" r="2.15"/><circle cx="389.96" cy="141.9" r="2.15"/><circle cx="392.76" cy="140.96" r="2.15"/></g>
</g>
<g fill="#636363" stroke="#636363">
<polygon points="395.7,79.17 408.91,94.27 427.25,86.11 437.03,99.93 442.55,114.51 450.01,125.51 461.51,136.03 470.72,150.23 476.58,167.56 465.49,182.11 457.88,196.46 452.06,213.8 434.43,218.68 419.69,225.5 403.82,228.99 387.58,228.99 373.89,219.02 353.45,224.53 339.34,213.8 344.82,188.8 319.56,184.64 335.04,164.24 334.32,150.97 323.31,134.2 341.39,125.51 348.85,114.51 354.37,99.93 367.02,92.31 381.02,87.6"/>
<g stroke="none"><circle cx="395.7" cy="79.17" r="2.15"/><circle cx="408.91" cy="94.27" r="2.15"/><circle cx="427.25" cy="86.11" r="2.15"/><circle cx="437.03" cy="99.93" r="2.15"/><circle cx="442.55" cy="114.51" r="2.15"/><circle cx="450.01" cy="125.51" r="2.15"/><circle cx="461.51" cy="136.03" r="2.15"/><circle cx="470.72" cy="150.23" r="2.15"/><circle cx="476.58" cy="167.56" r="2.15"/><circle cx="465.49" cy="182.11" r="2.15"/><circle cx="457.88" cy="196.46" r="2.15"/><circle cx="452.06" cy="213.8" r="2.15"/><circle cx="434.43" cy="218.68" r="2.15"/><circle cx="419.69" cy="225.5" r="2.15"/><circle cx="403.82" cy="228.99" r="2.15"/><circle cx="387.58" cy="228.99" r="2.15"/><circle cx="373.89" cy="219.02" r="2.15"/><circle cx="353.45" cy="224.53" r="2.15"/><circle cx="339.34" cy="213.8" r="2.15"/><circle cx="344.82" cy="188.8" r="2.15"/><circle cx="319.56" cy="184.64" r="2.15"/><circle cx="335.04" cy="164.24" r="2.15"/><circle cx="334.32" cy="150.97" r="2.15"/><circle cx="323.31" cy="134.2" r="2.15"/><circle cx="341.39" cy="125.51" r="2.15"/><circle cx="348.85" cy="114.51" r="2.15"/><circle cx="354.37" cy="99.93" r="2.15"/><circle cx="367.02" cy="92.31" r="2.15"/><circle cx="381.02" cy="87.6" r="2.15"/></g>
</g>
<g fill="#997300" stroke="#997300">
<polygon points="395.7,72.34 411.85,80.93 430.11,79.92 445.3,89.05 458.17,101.24 468.11,115.91 474.67,132.37 463.9,150.6 463.1,165.35 471.84,184.64 463.54,200.29 447.37,208.84 416.83,189.41 408.78,193.13 404.56,235.78 386.84,235.78 369.53,231.97 371.05,195.27 362.82,189.01 327.86,200.29 325.91,182.11 314.82,167.56 313.86,149.86 316.73,132.37 323.29,115.91 333.23,101.24 346.1,89.05 361.29,79.92 378.08,74.26"/>
<g stroke="none"><circle cx="395.7" cy="72.34" r="2.15"/><circle cx="411.85" cy="80.93" r="2.15"/><circle cx="430.11" cy="79.92" r="2.15"/><circle cx="445.3" cy="89.05" r="2.15"/><circle cx="458.17" cy="101.24" r="2.15"/><circle cx="468.11" cy="115.91" r="2.15"/><circle cx="474.67" cy="132.37" r="2.15"/><circle cx="463.9" cy="150.6" r="2.15"/><circle cx="463.1" cy="165.35" r="2.15"/><circle cx="471.84" cy="184.64" r="2.15"/><circle cx="463.54" cy="200.29" r="2.15"/><circle cx="447.37" cy="208.84" r="2.15"/><circle cx="416.83" cy="189.41" r="2.15"/><circle cx="408.78" cy="193.13" r="2.15"/><circle cx="404.56" cy="235.78" r="2.15"/><circle cx="386.84" cy="235.78" r="2.15"/><circle cx="369.53" cy="231.97" r="2.15"/><circle cx="371.05" cy="195.27" r="2.15"/><circle cx="362.82" cy="189.01" r="2.15"/><circle cx="327.86" cy="200.29" r="2.15"/><circle cx="325.91" cy="182.11" r="2.15"/><circle cx="314.82" cy="167.56" r="2.15"/><circle cx="313.86" cy="149.86" r="2.15"/><circle cx="316.73" cy="132.37" r="2.15"/><circle cx="323.29" cy="115.91" r="2.15"/><circle cx="333.23" cy="101.24" r="2.15"/><circle cx="346.1" cy="89.05" r="2.15"/><circle cx="361.29" cy="79.92" r="2.15"/><circle cx="378.08" cy="74.26" r="2.15"/></g>
</g>
<g fill="#264478" stroke="#264478">
<polygon points="395.7,113.32 405.98,107.61 412.91,117.11 412.23,132.55 411.32,141.04 413.8,144.7 415.44,148.82 416.16,153.19 422.66,158.72 421.08,164.41 423.97,173.46 409.79,169.18 423.87,201.12 400.06,167.24 397.18,167.88 394.22,167.88 391.34,167.24 392.18,160.15 376.91,174.13 384.39,161.97 383.01,159.36 375.48,157.61 375.24,153.19 362.79,145.16 359.49,135.1 364.47,127.77 375.03,127.11 384.23,129.51 391.3,134.29"/>
<g stroke="none"><circle cx="395.7" cy="113.32" r="2.15"/><circle cx="405.98" cy="107.61" r="2.15"/><circle cx="412.91" cy="117.11" r="2.15"/><circle cx="412.23" cy="132.55" r="2.15"/><circle cx="411.32" cy="141.04" r="2.15"/><circle cx="413.8" cy="144.7" r="2.15"/><circle cx="415.44" cy="148.82" r="2.15"/><circle cx="416.16" cy="153.19" r="2.15"/><circle cx="422.66" cy="158.72" r="2.15"/><circle cx="421.08" cy="164.41" r="2.15"/><circle cx="423.97" cy="173.46" r="2.15"/><circle cx="409.79" cy="169.18" r="2.15"/><circle cx="423.87" cy="201.12" r="2.15"/><circle cx="400.06" cy="167.24" r="2.15"/><circle cx="397.18" cy="167.88" r="2.15"/><circle cx="394.22" cy="167.88" r="2.15"/><circle cx="391.34" cy="167.24" r="2.15"/><circle cx="392.18" cy="160.15" r="2.15"/><circle cx="376.91" cy="174.13" r="2.15"/><circle cx="384.39" cy="161.97" r="2.15"/><circle cx="383.01" cy="159.36" r="2.15"/><circle cx="375.48" cy="157.61" r="2.15"/><circle cx="375.24" cy="153.19" r="2.15"/><circle cx="362.79" cy="145.16" r="2.15"/><circle cx="359.49" cy="135.1" r="2.15"/><circle cx="364.47" cy="127.77" r="2.15"/><circle cx="375.03" cy="127.11" r="2.15"/><circle cx="384.23" cy="129.51" r="2.15"/><circle cx="391.3" cy="134.29" r="2.15"/></g>
</g>
<g fill="#FF0000" stroke="#FF0000">
<polygon points="395.7,147.47 397.17,147.63 398.57,148.1 399.83,148.86 400.91,149.88 401.73,151.1 402.28,152.47 402.52,153.93 402.44,155.4 402.04,156.83 401.35,158.13 400.4,159.26 399.22,160.15 397.88,160.77 396.44,161.09 394.96,161.09 393.52,160.77 385.14,171.86 391,159.26 390.05,158.13 389.36,156.83 388.96,155.4 388.88,153.93 375.96,148.82 389.67,151.1 385.29,145.46 391.57,148.86 392.83,148.1 394.23,147.63"/>
<g stroke="none"><circle cx="395.7" cy="147.47" r="2.15"/><circle cx="397.17" cy="147.63" r="2.15"/><circle cx="398.57" cy="148.1" r="2.15"/><circle cx="399.83" cy="148.86" r="2.15"/><circle cx="400.91" cy="149.88" r="2.15"/><circle cx="401.73" cy="151.1" r="2.15"/><circle cx="402.28" cy="152.47" r="2.15"/><circle cx="402.52" cy="153.93" r="2.15"/><circle cx="402.44" cy="155.4" r="2.15"/><circle cx="402.04" cy="156.83" r="2.15"/><circle cx="401.35" cy="158.13" r="2.15"/><circle cx="400.4" cy="159.26" r="2.15"/><circle cx="399.22" cy="160.15" r="2.15"/><circle cx="397.88" cy="160.77" r="2.15"/><circle cx="396.44" cy="161.09" r="2.15"/><circle cx="394.96" cy="161.09" r="2.15"/><circle cx="393.52" cy="160.77" r="2.15"/><circle cx="385.14" cy="171.86" r="2.15"/><circle cx="391" cy="159.26" r="2.15"/><circle cx="390.05" cy="158.13" r="2.15"/><circle cx="389.36" cy="156.83" r="2.15"/><circle cx="388.96" cy="155.4" r="2.15"/><circle cx="388.88" cy="153.93" r="2.15"/><circle cx="375.96" cy="148.82" r="2.15"/><circle cx="389.67" cy="151.1" r="2.15"/><circle cx="385.29" cy="145.46" r="2.15"/><circle cx="391.57" cy="148.86" r="2.15"/><circle cx="392.83" cy="148.1" r="2.15"/><circle cx="394.23" cy="147.63" r="2.15"/></g>
</g>
</g>
<g>
<text class="t" x="117.7" y="317.6" text-anchor="middle" fill="#404040">D100</text>
<g class="l" text-anchor="middle" font-size="13.7" fill="#595959">
<text transform="translate(117.15 348.9) scale(0.95 1)">F1</text><text transform="translate(143.8 358.7) scale(0.95 1)">F3</text><text transform="translate(162.5 364.6) scale(0.95 1)">F4</text><text transform="translate(179.5 374.8) scale(0.95 1)">F5</text><text transform="translate(194 388.9) scale(0.95 1)">F6</text><text transform="translate(206 405.7) scale(0.95 1)">F7</text><text transform="translate(213 424.1) scale(0.95 1)">F8</text><text transform="translate(216.3 443.9) scale(0.95 1)">F9</text><text transform="translate(219.05 464.3) scale(0.95 1)">F10</text><text transform="translate(213.75 483.4) scale(0.95 1)">F11</text><text transform="translate(204.05 501.4) scale(0.95 1)">F12</text><text transform="translate(191.25 516) scale(0.95 1)">F13</text><text transform="translate(175.45 528.1) scale(0.95 1)">F14</text><text transform="translate(157.05 536.8) scale(0.95 1)">F15</text><text transform="translate(137.65 540.9) scale(0.95 1)">F16</text><text transform="translate(97.25 541.1) scale(0.95 1)">F17</text><text transform="translate(78.05 536.8) scale(0.95 1)">F18</text><text transform="translate(59.75 528.7) scale(0.95 1)">F19</text><text transform="translate(43.85 516.4) scale(0.95 1)">F20</text><text transform="translate(30.85 501.4) scale(0.95 1)">F21</text><text transform="translate(21.75 483.4) scale(0.95 1)">F22</text><text transform="translate(16.35 464.3) scale(0.95 1)">F23</text><text transform="translate(15.25 443.9) scale(0.95 1)">F24</text><text transform="translate(18.75 424.1) scale(0.95 1)">F25</text><text transform="translate(26.25 406) scale(0.95 1)">F26</text><text transform="translate(36.95 388.9) scale(0.95 1)">F27</text><text transform="translate(51.95 374.8) scale(0.95 1)">F28</text><text transform="translate(69.45 364.6) scale(0.95 1)">F29</text><text transform="translate(88.15 358.7) scale(0.95 1)">F30</text>
</g>
<g fill="#5B9BD5" stroke="#5B9BD5">
<polygon points="117.6,409.75 132.33,377.1 129.1,419.13 146.62,405.83 148.92,417.39 153.91,424.75 150.6,434.84 144.96,442.52 144.64,448.43 174.87,466.82 145.95,463.22 141.15,468.87 145.85,490.96 128.54,476.46 121.3,478.05 113.16,484.86 102.29,489.44 96.41,479.22 89.34,473.84 83.58,467.06 79.42,459.21 56.76,453.97 76.56,441.77 71.4,431.17 69.18,418.33 60.17,395.22 84.44,400.37 100.34,406.7 110.24,410.55"/>
<g stroke="none"><circle cx="117.6" cy="409.75" r="2.15"/><circle cx="132.33" cy="377.1" r="2.15"/><circle cx="129.1" cy="419.13" r="2.15"/><circle cx="146.62" cy="405.83" r="2.15"/><circle cx="148.92" cy="417.39" r="2.15"/><circle cx="153.91" cy="424.75" r="2.15"/><circle cx="150.6" cy="434.84" r="2.15"/><circle cx="144.96" cy="442.52" r="2.15"/><circle cx="144.64" cy="448.43" r="2.15"/><circle cx="174.87" cy="466.82" r="2.15"/><circle cx="145.95" cy="463.22" r="2.15"/><circle cx="141.15" cy="468.87" r="2.15"/><circle cx="145.85" cy="490.96" r="2.15"/><circle cx="128.54" cy="476.46" r="2.15"/><circle cx="121.3" cy="478.05" r="2.15"/><circle cx="113.16" cy="484.86" r="2.15"/><circle cx="102.29" cy="489.44" r="2.15"/><circle cx="96.41" cy="479.22" r="2.15"/><circle cx="89.34" cy="473.84" r="2.15"/><circle cx="83.58" cy="467.06" r="2.15"/><circle cx="79.42" cy="459.21" r="2.15"/><circle cx="56.76" cy="453.97" r="2.15"/><circle cx="76.56" cy="441.77" r="2.15"/><circle cx="71.4" cy="431.17" r="2.15"/><circle cx="69.18" cy="418.33" r="2.15"/><circle cx="60.17" cy="395.22" r="2.15"/><circle cx="84.44" cy="400.37" r="2.15"/><circle cx="100.34" cy="406.7" r="2.15"/><circle cx="110.24" cy="410.55" r="2.15"/></g>
</g>
<g fill="#00B0F0" stroke="#00B0F0">
<polygon points="117.6,389.2 123.49,417.24 137.73,400.48 134.18,422.19 138.48,426.26 141.81,431.17 144,436.67 158.64,441.77 137.88,447.32 155.78,459.21 162.96,474.75 155.29,483.78 135.26,473.35 135.1,495.93 120.56,471.24 113.9,478.05 100.1,495.93 89.35,490.96 103.47,458.92 94.92,459.38 92.15,454.14 90.56,448.43 90.24,442.52 111,442.17 99.44,434.37 112.38,439.57 105.16,427.64 106.1,419.13 105.82,390.48"/>
<g stroke="none"><circle cx="117.6" cy="389.2" r="2.15"/><circle cx="123.49" cy="417.24" r="2.15"/><circle cx="137.73" cy="400.48" r="2.15"/><circle cx="134.18" cy="422.19" r="2.15"/><circle cx="138.48" cy="426.26" r="2.15"/><circle cx="141.81" cy="431.17" r="2.15"/><circle cx="144" cy="436.67" r="2.15"/><circle cx="158.64" cy="441.77" r="2.15"/><circle cx="137.88" cy="447.32" r="2.15"/><circle cx="155.78" cy="459.21" r="2.15"/><circle cx="162.96" cy="474.75" r="2.15"/><circle cx="155.29" cy="483.78" r="2.15"/><circle cx="135.26" cy="473.35" r="2.15"/><circle cx="135.1" cy="495.93" r="2.15"/><circle cx="120.56" cy="471.24" r="2.15"/><circle cx="113.9" cy="478.05" r="2.15"/><circle cx="100.1" cy="495.93" r="2.15"/><circle cx="89.35" cy="490.96" r="2.15"/><circle cx="103.47" cy="458.92" r="2.15"/><circle cx="94.92" cy="459.38" r="2.15"/><circle cx="92.15" cy="454.14" r="2.15"/><circle cx="90.56" cy="448.43" r="2.15"/><circle cx="90.24" cy="442.52" r="2.15"/><circle cx="111" cy="442.17" r="2.15"/><circle cx="99.44" cy="434.37" r="2.15"/><circle cx="112.38" cy="439.57" r="2.15"/><circle cx="105.16" cy="427.64" r="2.15"/><circle cx="106.1" cy="419.13" r="2.15"/><circle cx="105.82" cy="390.48" r="2.15"/></g>
</g>
<g fill="#A5A5A5" stroke="#A5A5A5">
<polygon points="117.6,382.35 133.8,370.41 143.49,388.05 150.76,400.37 154.15,412.96 190.22,405.5 170.4,429.34 172.32,441.03 164.92,451.76 181.23,469.35 168.63,478.6 160,488.76 149.38,496.83 137.28,502.42 123.52,498.48 110.93,505.29 95.73,508.91 85.82,496.83 84.62,478.81 72.24,474.75 73.06,461.75 77.04,450.65 62.88,441.03 58.2,427.51 81.29,424.75 81.05,412.96 76.15,389.47 94.59,394.26 104.35,383.79"/>
<g stroke="none"><circle cx="117.6" cy="382.35" r="2.15"/><circle cx="133.8" cy="370.41" r="2.15"/><circle cx="143.49" cy="388.05" r="2.15"/><circle cx="150.76" cy="400.37" r="2.15"/><circle cx="154.15" cy="412.96" r="2.15"/><circle cx="190.22" cy="405.5" r="2.15"/><circle cx="170.4" cy="429.34" r="2.15"/><circle cx="172.32" cy="441.03" r="2.15"/><circle cx="164.92" cy="451.76" r="2.15"/><circle cx="181.23" cy="469.35" r="2.15"/><circle cx="168.63" cy="478.6" r="2.15"/><circle cx="160" cy="488.76" r="2.15"/><circle cx="149.38" cy="496.83" r="2.15"/><circle cx="137.28" cy="502.42" r="2.15"/><circle cx="123.52" cy="498.48" r="2.15"/><circle cx="110.93" cy="505.29" r="2.15"/><circle cx="95.73" cy="508.91" r="2.15"/><circle cx="85.82" cy="496.83" r="2.15"/><circle cx="84.62" cy="478.81" r="2.15"/><circle cx="72.24" cy="474.75" r="2.15"/><circle cx="73.06" cy="461.75" r="2.15"/><circle cx="77.04" cy="450.65" r="2.15"/><circle cx="62.88" cy="441.03" r="2.15"/><circle cx="58.2" cy="427.51" r="2.15"/><circle cx="81.29" cy="424.75" r="2.15"/><circle cx="81.05" cy="412.96" r="2.15"/><circle cx="76.15" cy="389.47" r="2.15"/><circle cx="94.59" cy="394.26" r="2.15"/><circle cx="104.35" cy="383.79" r="2.15"/></g>
</g>
<g fill="#FFC000" stroke="#FFC000">
<polygon points="117.6,416.6 135.27,363.72 131.98,412.92 142.47,411.28 164.59,404.09 172.07,415.12 163.8,431.17 165.48,441.4 178.44,453.97 149.42,456.68 151.62,467.06 145.86,473.84 142.32,485.09 130.72,482.95 124.27,505.29 111.68,498.48 108.85,469.97 92.88,485.09 70.49,493.73 66.57,478.6 60.33,466.82 50,455.08 56.04,440.66 78,433 57.08,411.91 75.83,408.52 96.87,416.73 91.71,388.05 107.29,397.17"/>
<g stroke="none"><circle cx="117.6" cy="416.6" r="2.15"/><circle cx="135.27" cy="363.72" r="2.15"/><circle cx="131.98" cy="412.92" r="2.15"/><circle cx="142.47" cy="411.28" r="2.15"/><circle cx="164.59" cy="404.09" r="2.15"/><circle cx="172.07" cy="415.12" r="2.15"/><circle cx="163.8" cy="431.17" r="2.15"/><circle cx="165.48" cy="441.4" r="2.15"/><circle cx="178.44" cy="453.97" r="2.15"/><circle cx="149.42" cy="456.68" r="2.15"/><circle cx="151.62" cy="467.06" r="2.15"/><circle cx="145.86" cy="473.84" r="2.15"/><circle cx="142.32" cy="485.09" r="2.15"/><circle cx="130.72" cy="482.95" r="2.15"/><circle cx="124.27" cy="505.29" r="2.15"/><circle cx="111.68" cy="498.48" r="2.15"/><circle cx="108.85" cy="469.97" r="2.15"/><circle cx="92.88" cy="485.09" r="2.15"/><circle cx="70.49" cy="493.73" r="2.15"/><circle cx="66.57" cy="478.6" r="2.15"/><circle cx="60.33" cy="466.82" r="2.15"/><circle cx="50" cy="455.08" r="2.15"/><circle cx="56.04" cy="440.66" r="2.15"/><circle cx="78" cy="433" r="2.15"/><circle cx="57.08" cy="411.91" r="2.15"/><circle cx="75.83" cy="408.52" r="2.15"/><circle cx="96.87" cy="416.73" r="2.15"/><circle cx="91.71" cy="388.05" r="2.15"/><circle cx="107.29" cy="397.17" r="2.15"/></g>
</g>
<g fill="#4472C4" stroke="#4472C4">
<polygon points="117.6,423.45 120.55,430.62 123.35,431.57 154.91,394.92 159.37,408.52 147.86,427.96 177,427.51 179.16,440.66 151.4,449.54 136.69,451.61 140.28,459.38 136.44,463.89 131.73,467.48 126.35,469.97 122.78,491.67 112.42,491.67 106.66,476.46 99.94,473.35 79.91,483.78 77.91,470.91 85.78,456.68 83.8,449.54 83.4,442.15 91.2,436.67 93.39,431.17 96.72,426.26 92.73,411.28 103.22,412.92 111.71,417.24"/>
<g stroke="none"><circle cx="117.6" cy="423.45" r="2.15"/><circle cx="120.55" cy="430.62" r="2.15"/><circle cx="123.35" cy="431.57" r="2.15"/><circle cx="154.91" cy="394.92" r="2.15"/><circle cx="159.37" cy="408.52" r="2.15"/><circle cx="147.86" cy="427.96" r="2.15"/><circle cx="177" cy="427.51" r="2.15"/><circle cx="179.16" cy="440.66" r="2.15"/><circle cx="151.4" cy="449.54" r="2.15"/><circle cx="136.69" cy="451.61" r="2.15"/><circle cx="140.28" cy="459.38" r="2.15"/><circle cx="136.44" cy="463.89" r="2.15"/><circle cx="131.73" cy="467.48" r="2.15"/><circle cx="126.35" cy="469.97" r="2.15"/><circle cx="122.78" cy="491.67" r="2.15"/><circle cx="112.42" cy="491.67" r="2.15"/><circle cx="106.66" cy="476.46" r="2.15"/><circle cx="99.94" cy="473.35" r="2.15"/><circle cx="79.91" cy="483.78" r="2.15"/><circle cx="77.91" cy="470.91" r="2.15"/><circle cx="85.78" cy="456.68" r="2.15"/><circle cx="83.8" cy="449.54" r="2.15"/><circle cx="83.4" cy="442.15" r="2.15"/><circle cx="91.2" cy="436.67" r="2.15"/><circle cx="93.39" cy="431.17" r="2.15"/><circle cx="96.72" cy="426.26" r="2.15"/><circle cx="92.73" cy="411.28" r="2.15"/><circle cx="103.22" cy="412.92" r="2.15"/><circle cx="111.71" cy="417.24" r="2.15"/></g>
</g>
<g fill="#70AD47" stroke="#70AD47">
<polygon points="117.6,396.05 124.96,410.55 140.61,394.26 142.47,411.28 143.7,421.83 159.96,421.54 157.2,433 151.8,442.15 158.16,450.65 162.14,461.75 157.29,470.91 150.58,478.81 124.66,455.74 132.91,489.44 122.04,484.86 115.38,464.43 111.04,463.47 103.47,467.48 94.05,468.87 89.25,463.22 66.69,464.28 70.28,451.76 69.72,441.4 64.8,429.34 75.24,421.54 70.61,404.09 88.58,405.83 97.47,400.48 108.76,403.86"/>
<g stroke="none"><circle cx="117.6" cy="396.05" r="2.15"/><circle cx="124.96" cy="410.55" r="2.15"/><circle cx="140.61" cy="394.26" r="2.15"/><circle cx="142.47" cy="411.28" r="2.15"/><circle cx="143.7" cy="421.83" r="2.15"/><circle cx="159.96" cy="421.54" r="2.15"/><circle cx="157.2" cy="433" r="2.15"/><circle cx="151.8" cy="442.15" r="2.15"/><circle cx="158.16" cy="450.65" r="2.15"/><circle cx="162.14" cy="461.75" r="2.15"/><circle cx="157.29" cy="470.91" r="2.15"/><circle cx="150.58" cy="478.81" r="2.15"/><circle cx="124.66" cy="455.74" r="2.15"/><circle cx="132.91" cy="489.44" r="2.15"/><circle cx="122.04" cy="484.86" r="2.15"/><circle cx="115.38" cy="464.43" r="2.15"/><circle cx="111.04" cy="463.47" r="2.15"/><circle cx="103.47" cy="467.48" r="2.15"/><circle cx="94.05" cy="468.87" r="2.15"/><circle cx="89.25" cy="463.22" r="2.15"/><circle cx="66.69" cy="464.28" r="2.15"/><circle cx="70.28" cy="451.76" r="2.15"/><circle cx="69.72" cy="441.4" r="2.15"/><circle cx="64.8" cy="429.34" r="2.15"/><circle cx="75.24" cy="421.54" r="2.15"/><circle cx="70.61" cy="404.09" r="2.15"/><circle cx="88.58" cy="405.83" r="2.15"/><circle cx="97.47" cy="400.48" r="2.15"/><circle cx="108.76" cy="403.86" r="2.15"/></g>
</g>
<g fill="#255E91" stroke="#255E91">
<polygon points="117.6,368.65 126.44,403.86 149.24,375.61 163.2,384.01 175.03,395.22 166.02,418.33 190.2,423.84 192.84,439.92 185.2,455.08 187.6,471.89 174.3,482.44 164.71,493.73 156.45,508.56 139.47,508.91 125.01,512.1 109.45,518.91 93.54,515.41 82.28,502.69 65.78,498.7 55.23,486.29 53.97,469.35 43.24,456.19 42.36,439.92 45,423.84 51.03,408.71 91.5,421.83 72,384.01 88.84,381.83 102.87,377.1"/>
<g stroke="none"><circle cx="117.6" cy="368.65" r="2.15"/><circle cx="126.44" cy="403.86" r="2.15"/><circle cx="149.24" cy="375.61" r="2.15"/><circle cx="163.2" cy="384.01" r="2.15"/><circle cx="175.03" cy="395.22" r="2.15"/><circle cx="166.02" cy="418.33" r="2.15"/><circle cx="190.2" cy="423.84" r="2.15"/><circle cx="192.84" cy="439.92" r="2.15"/><circle cx="185.2" cy="455.08" r="2.15"/><circle cx="187.6" cy="471.89" r="2.15"/><circle cx="174.3" cy="482.44" r="2.15"/><circle cx="164.71" cy="493.73" r="2.15"/><circle cx="156.45" cy="508.56" r="2.15"/><circle cx="139.47" cy="508.91" r="2.15"/><circle cx="125.01" cy="512.1" r="2.15"/><circle cx="109.45" cy="518.91" r="2.15"/><circle cx="93.54" cy="515.41" r="2.15"/><circle cx="82.28" cy="502.69" r="2.15"/><circle cx="65.78" cy="498.7" r="2.15"/><circle cx="55.23" cy="486.29" r="2.15"/><circle cx="53.97" cy="469.35" r="2.15"/><circle cx="43.24" cy="456.19" r="2.15"/><circle cx="42.36" cy="439.92" r="2.15"/><circle cx="45" cy="423.84" r="2.15"/><circle cx="51.03" cy="408.71" r="2.15"/><circle cx="91.5" cy="421.83" r="2.15"/><circle cx="72" cy="384.01" r="2.15"/><circle cx="88.84" cy="381.83" r="2.15"/><circle cx="102.87" cy="377.1" r="2.15"/></g>
</g>
<g fill="#9E480E" stroke="#9E480E">
<polygon points="117.6,430.3 122.02,423.93 126.23,425.35 125.89,433.09 128.04,435.13 129.7,437.58 130.8,440.33 131.28,443.26 131.12,446.22 143.05,454.14 128.94,451.69 127.02,453.95 128.19,461.61 121.97,456.98 119.08,457.62 114.64,471.24 113.23,456.98 110.54,455.74 98.76,463.89 106.26,451.69 104.87,449.07 104.08,446.22 103.92,443.26 104.4,440.33 105.5,437.58 101.94,430.7 109.31,433.09 111.85,431.57 114.65,430.62"/>
<g stroke="none"><circle cx="117.6" cy="430.3" r="2.15"/><circle cx="122.02" cy="423.93" r="2.15"/><circle cx="126.23" cy="425.35" r="2.15"/><circle cx="125.89" cy="433.09" r="2.15"/><circle cx="128.04" cy="435.13" r="2.15"/><circle cx="129.7" cy="437.58" r="2.15"/><circle cx="130.8" cy="440.33" r="2.15"/><circle cx="131.28" cy="443.26" r="2.15"/><circle cx="131.12" cy="446.22" r="2.15"/><circle cx="143.05" cy="454.14" r="2.15"/><circle cx="128.94" cy="451.69" r="2.15"/><circle cx="127.02" cy="453.95" r="2.15"/><circle cx="128.19" cy="461.61" r="2.15"/><circle cx="121.97" cy="456.98" r="2.15"/><circle cx="119.08" cy="457.62" r="2.15"/><circle cx="114.64" cy="471.24" r="2.15"/><circle cx="113.23" cy="456.98" r="2.15"/><circle cx="110.54" cy="455.74" r="2.15"/><circle cx="98.76" cy="463.89" r="2.15"/><circle cx="106.26" cy="451.69" r="2.15"/><circle cx="104.87" cy="449.07" r="2.15"/><circle cx="104.08" cy="446.22" r="2.15"/><circle cx="103.92" cy="443.26" r="2.15"/><circle cx="104.4" cy="440.33" r="2.15"/><circle cx="105.5" cy="437.58" r="2.15"/><circle cx="101.94" cy="430.7" r="2.15"/><circle cx="109.31" cy="433.09" r="2.15"/><circle cx="111.85" cy="431.57" r="2.15"/><circle cx="114.65" cy="430.62" r="2.15"/></g>
</g>
<g fill="#636363" stroke="#636363">
<polygon points="117.6,375.5 127.91,397.17 146.36,381.83 159.05,389.47 169.81,399.65 178.12,411.91 183.6,425.67 199.68,439.55 198.72,457.3 168.51,464.28 179.97,486.29 169.42,498.7 152.92,502.69 143.85,521.9 125.75,518.91 110.19,512.1 97.92,502.42 78.75,508.56 61.07,503.68 60.9,482.44 41.24,474.43 63.52,452.87 49.2,440.29 51.6,425.67 63.13,415.12 65.39,399.65 80.29,394.92 85.96,375.61 101.4,370.41"/>
<g stroke="none"><circle cx="117.6" cy="375.5" r="2.15"/><circle cx="127.91" cy="397.17" r="2.15"/><circle cx="146.36" cy="381.83" r="2.15"/><circle cx="159.05" cy="389.47" r="2.15"/><circle cx="169.81" cy="399.65" r="2.15"/><circle cx="178.12" cy="411.91" r="2.15"/><circle cx="183.6" cy="425.67" r="2.15"/><circle cx="199.68" cy="439.55" r="2.15"/><circle cx="198.72" cy="457.3" r="2.15"/><circle cx="168.51" cy="464.28" r="2.15"/><circle cx="179.97" cy="486.29" r="2.15"/><circle cx="169.42" cy="498.7" r="2.15"/><circle cx="152.92" cy="502.69" r="2.15"/><circle cx="143.85" cy="521.9" r="2.15"/><circle cx="125.75" cy="518.91" r="2.15"/><circle cx="110.19" cy="512.1" r="2.15"/><circle cx="97.92" cy="502.42" r="2.15"/><circle cx="78.75" cy="508.56" r="2.15"/><circle cx="61.07" cy="503.68" r="2.15"/><circle cx="60.9" cy="482.44" r="2.15"/><circle cx="41.24" cy="474.43" r="2.15"/><circle cx="63.52" cy="452.87" r="2.15"/><circle cx="49.2" cy="440.29" r="2.15"/><circle cx="51.6" cy="425.67" r="2.15"/><circle cx="63.13" cy="415.12" r="2.15"/><circle cx="65.39" cy="399.65" r="2.15"/><circle cx="80.29" cy="394.92" r="2.15"/><circle cx="85.96" cy="375.61" r="2.15"/><circle cx="101.4" cy="370.41" r="2.15"/></g>
</g>
<g fill="#997300" stroke="#997300">
<polygon points="117.6,361.8 130.85,383.79 152.11,369.4 167.35,378.56 180.25,390.78 184.17,408.71 196.8,422.01 186,440.29 191.96,456.19 193.96,474.43 185.64,490.13 174.13,503.68 159.98,514.43 141.66,515.41 126.49,525.72 108.71,525.72 91.35,521.9 75.22,514.43 75.2,488.76 49.56,490.13 47.6,471.89 36.48,457.3 35.52,439.55 38.4,422.01 44.98,405.5 54.95,390.78 67.85,378.56 83.09,369.4 99.93,363.72"/>
<g stroke="none"><circle cx="117.6" cy="361.8" r="2.15"/><circle cx="130.85" cy="383.79" r="2.15"/><circle cx="152.11" cy="369.4" r="2.15"/><circle cx="167.35" cy="378.56" r="2.15"/><circle cx="180.25" cy="390.78" r="2.15"/><circle cx="184.17" cy="408.71" r="2.15"/><circle cx="196.8" cy="422.01" r="2.15"/><circle cx="186" cy="440.29" r="2.15"/><circle cx="191.96" cy="456.19" r="2.15"/><circle cx="193.96" cy="474.43" r="2.15"/><circle cx="185.64" cy="490.13" r="2.15"/><circle cx="174.13" cy="503.68" r="2.15"/><circle cx="159.98" cy="514.43" r="2.15"/><circle cx="141.66" cy="515.41" r="2.15"/><circle cx="126.49" cy="525.72" r="2.15"/><circle cx="108.71" cy="525.72" r="2.15"/><circle cx="91.35" cy="521.9" r="2.15"/><circle cx="75.22" cy="514.43" r="2.15"/><circle cx="75.2" cy="488.76" r="2.15"/><circle cx="49.56" cy="490.13" r="2.15"/><circle cx="47.6" cy="471.89" r="2.15"/><circle cx="36.48" cy="457.3" r="2.15"/><circle cx="35.52" cy="439.55" r="2.15"/><circle cx="38.4" cy="422.01" r="2.15"/><circle cx="44.98" cy="405.5" r="2.15"/><circle cx="54.95" cy="390.78" r="2.15"/><circle cx="67.85" cy="378.56" r="2.15"/><circle cx="83.09" cy="369.4" r="2.15"/><circle cx="99.93" cy="363.72" r="2.15"/></g>
</g>
<g fill="#264478" stroke="#264478">
<polygon points="117.6,402.9 129.38,390.48 134.86,406.7 130.04,427.64 133.26,430.7 135.76,434.37 137.4,438.5 138.12,442.89 171.68,452.87 130.33,449.07 134.61,455.53 131.73,458.92 138.79,479.22 124.16,463.47 119.82,464.43 116.12,457.62 104.48,482.95 107.01,461.61 108.18,453.95 100.59,455.53 98.51,451.61 97.32,447.32 97.08,442.89 84.6,434.84 87.34,427.96 91.5,421.83 101.02,422.19 108.97,425.35 113.18,423.93"/>
<g stroke="none"><circle cx="117.6" cy="402.9" r="2.15"/><circle cx="129.38" cy="390.48" r="2.15"/><circle cx="134.86" cy="406.7" r="2.15"/><circle cx="130.04" cy="427.64" r="2.15"/><circle cx="133.26" cy="430.7" r="2.15"/><circle cx="135.76" cy="434.37" r="2.15"/><circle cx="137.4" cy="438.5" r="2.15"/><circle cx="138.12" cy="442.89" r="2.15"/><circle cx="171.68" cy="452.87" r="2.15"/><circle cx="130.33" cy="449.07" r="2.15"/><circle cx="134.61" cy="455.53" r="2.15"/><circle cx="131.73" cy="458.92" r="2.15"/><circle cx="138.79" cy="479.22" r="2.15"/><circle cx="124.16" cy="463.47" r="2.15"/><circle cx="119.82" cy="464.43" r="2.15"/><circle cx="116.12" cy="457.62" r="2.15"/><circle cx="104.48" cy="482.95" r="2.15"/><circle cx="107.01" cy="461.61" r="2.15"/><circle cx="108.18" cy="453.95" r="2.15"/><circle cx="100.59" cy="455.53" r="2.15"/><circle cx="98.51" cy="451.61" r="2.15"/><circle cx="97.32" cy="447.32" r="2.15"/><circle cx="97.08" cy="442.89" r="2.15"/><circle cx="84.6" cy="434.84" r="2.15"/><circle cx="87.34" cy="427.96" r="2.15"/><circle cx="91.5" cy="421.83" r="2.15"/><circle cx="101.02" cy="422.19" r="2.15"/><circle cx="108.97" cy="425.35" r="2.15"/><circle cx="113.18" cy="423.93" r="2.15"/></g>
</g>
<g fill="#FF0000" stroke="#FF0000">
<polygon points="117.6,437.15 119.07,437.31 120.48,437.78 121.75,438.55 122.82,439.57 123.65,440.79 124.2,442.17 124.44,443.63 124.36,445.11 123.96,446.54 123.27,447.84 122.31,448.97 121.13,449.87 119.79,450.49 118.34,450.81 116.86,450.81 115.41,450.49 114.07,449.87 112.89,448.97 111.93,447.84 111.24,446.54 110.84,445.11 110.76,443.63 97.8,438.5 111.55,440.79 107.16,435.13 113.45,438.55 114.72,437.78 116.13,437.31"/>
<g stroke="none"><circle cx="117.6" cy="437.15" r="2.15"/><circle cx="119.07" cy="437.31" r="2.15"/><circle cx="120.48" cy="437.78" r="2.15"/><circle cx="121.75" cy="438.55" r="2.15"/><circle cx="122.82" cy="439.57" r="2.15"/><circle cx="123.65" cy="440.79" r="2.15"/><circle cx="124.2" cy="442.17" r="2.15"/><circle cx="124.44" cy="443.63" r="2.15"/><circle cx="124.36" cy="445.11" r="2.15"/><circle cx="123.96" cy="446.54" r="2.15"/><circle cx="123.27" cy="447.84" r="2.15"/><circle cx="122.31" cy="448.97" r="2.15"/><circle cx="121.13" cy="449.87" r="2.15"/><circle cx="119.79" cy="450.49" r="2.15"/><circle cx="118.34" cy="450.81" r="2.15"/><circle cx="116.86" cy="450.81" r="2.15"/><circle cx="115.41" cy="450.49" r="2.15"/><circle cx="114.07" cy="449.87" r="2.15"/><circle cx="112.89" cy="448.97" r="2.15"/><circle cx="111.93" cy="447.84" r="2.15"/><circle cx="111.24" cy="446.54" r="2.15"/><circle cx="110.84" cy="445.11" r="2.15"/><circle cx="110.76" cy="443.63" r="2.15"/><circle cx="97.8" cy="438.5" r="2.15"/><circle cx="111.55" cy="440.79" r="2.15"/><circle cx="107.16" cy="435.13" r="2.15"/><circle cx="113.45" cy="438.55" r="2.15"/><circle cx="114.72" cy="437.78" r="2.15"/><circle cx="116.13" cy="437.31" r="2.15"/></g>
</g>
</g>
<rect x="293.6" y="321.6" width="204.8" height="213.5" fill="#fff" stroke="#4a4a4a" stroke-width="1.2"/>
<line x1="300.4" y1="339.7" x2="322.4" y2="339.7" stroke="#5B9BD5" stroke-width="1.3"/><circle cx="311.4" cy="339.7" r="1.4" fill="#5B9BD5"/><text class="g" transform="translate(325.2 344.3) scale(0.888 1)">KH</text>
<line x1="402.8" y1="339.7" x2="424.8" y2="339.7" stroke="#00B0F0" stroke-width="1.3"/><circle cx="413.8" cy="339.7" r="1.4" fill="#00B0F0"/><text class="g" transform="translate(427.6 344.3) scale(0.888 1)">GWO</text>
<line x1="300.4" y1="375.3" x2="322.4" y2="375.3" stroke="#A5A5A5" stroke-width="1.3"/><circle cx="311.4" cy="375.3" r="1.4" fill="#A5A5A5"/><text class="g" transform="translate(325.2 379.9) scale(0.888 1)">MFO</text>
<line x1="402.8" y1="375.3" x2="424.8" y2="375.3" stroke="#FFC000" stroke-width="1.3"/><circle cx="413.8" cy="375.3" r="1.4" fill="#FFC000"/><text class="g" transform="translate(427.6 379.9) scale(0.888 1)">WOA</text>
<line x1="300.4" y1="410.9" x2="322.4" y2="410.9" stroke="#4472C4" stroke-width="1.3"/><circle cx="311.4" cy="410.9" r="1.4" fill="#4472C4"/><text class="g" transform="translate(325.2 415.5) scale(0.888 1)">WCMFO</text>
<line x1="402.8" y1="410.9" x2="424.8" y2="410.9" stroke="#70AD47" stroke-width="1.3"/><circle cx="413.8" cy="410.9" r="1.4" fill="#70AD47"/><text class="g" transform="translate(427.6 415.5) scale(0.888 1)">CMFO</text>
<line x1="300.4" y1="446.5" x2="322.4" y2="446.5" stroke="#255E91" stroke-width="1.3"/><circle cx="311.4" cy="446.5" r="1.4" fill="#255E91"/><text class="g" transform="translate(325.2 451.1) scale(0.888 1)">HGSO</text>
<line x1="402.8" y1="446.5" x2="424.8" y2="446.5" stroke="#9E480E" stroke-width="1.3"/><circle cx="413.8" cy="446.5" r="1.4" fill="#9E480E"/><text class="g" transform="translate(427.6 451.1) scale(0.888 1)">RGA-DX</text>
<line x1="300.4" y1="482.1" x2="322.4" y2="482.1" stroke="#636363" stroke-width="1.3"/><circle cx="311.4" cy="482.1" r="1.4" fill="#636363"/><text class="g" transform="translate(325.2 486.7) scale(0.888 1)">ChOA</text>
<line x1="402.8" y1="482.1" x2="424.8" y2="482.1" stroke="#997300" stroke-width="1.3"/><circle cx="413.8" cy="482.1" r="1.4" fill="#997300"/><text class="g" transform="translate(427.6 486.7) scale(0.888 1)">AOA</text>
<line x1="300.4" y1="517.7" x2="322.4" y2="517.7" stroke="#264478" stroke-width="1.3"/><circle cx="311.4" cy="517.7" r="1.4" fill="#264478"/><text class="g" transform="translate(325.2 522.3) scale(0.888 1)">ODSFMFO</text>
<line x1="402.8" y1="517.7" x2="424.8" y2="517.7" stroke="#FF0000" stroke-width="1.3"/><circle cx="413.8" cy="517.7" r="1.4" fill="#FF0000"/><text class="g" transform="translate(427.6 522.3) scale(0.888 1)">M-MFO</text>
</svg>
</body></html>
